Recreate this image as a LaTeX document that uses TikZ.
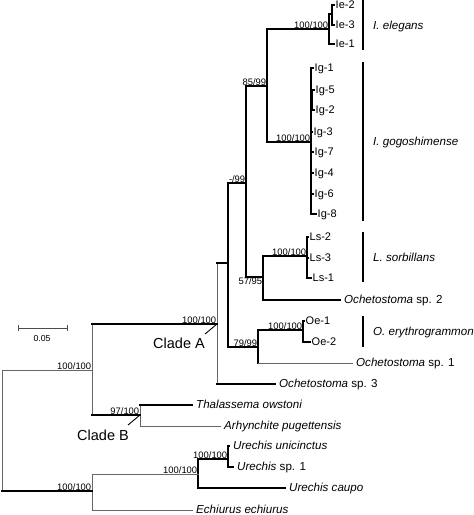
\documentclass[tikz,border=0pt]{standalone}
\usepackage{fontspec}
\setmainfont{Liberation Sans}
\begin{document}
\begin{tikzpicture}[x=1pt,y=-1pt,
  br/.style={line width=1.3pt, line cap=rect},
  gbr/.style={line width=1pt, draw=black!60, line cap=rect},
  bar/.style={line width=2pt},
  bs/.style={font=\fontsize{9.4}{10}\selectfont, inner sep=0.6pt},
  tip/.style={anchor=west, inner xsep=1.5pt, inner ysep=0pt, font=\fontsize{11}{12}\selectfont, text height=7.8pt, text depth=0pt},
  spl/.style={anchor=west, inner xsep=4pt, inner ysep=0pt, font=\fontsize{11.6}{13}\selectfont\itshape, text height=6pt, text depth=0pt},
  grp/.style={anchor=west, inner sep=0pt, font=\fontsize{11.6}{13}\selectfont\itshape, text height=6pt, text depth=0pt},
  clade/.style={font=\fontsize{14.5}{16}\selectfont, inner sep=0pt}]
\useasboundingbox (0,0) rectangle (474,515);
% internal nodes
\coordinate (R) at (2,370);
\coordinate (U) at (92,370);
\coordinate (L) at (92,491);
\coordinate (CA) at (217,324);
\coordinate (CB) at (140,415);
\coordinate (N228) at (228,263);
\coordinate (N246) at (246,183);
\coordinate (N267) at (267,86);
\coordinate (Ie) at (329,29);
\coordinate (Ie23) at (332,14);
\coordinate (Ig) at (311,142);
\coordinate (Ig52) at (312.5,100);
\coordinate (N263) at (263,277);
\coordinate (Ls) at (307,256);
\coordinate (N258) at (258,347);
\coordinate (Oe) at (303,330);
\coordinate (Ur) at (198,474);
\coordinate (UrA) at (228,459);
% leaves
\coordinate (ie2) at (334,5);
\coordinate (ie3) at (334,25);
\coordinate (ie1) at (334,44);
\coordinate (ig1) at (313,68);
\coordinate (ig5) at (314,90);
\coordinate (ig2) at (314,110);
\coordinate (ig3) at (312,132);
\coordinate (ig7) at (313,152);
\coordinate (ig4) at (313,173);
\coordinate (ig6) at (313,194);
\coordinate (ig8) at (316,214);
\coordinate (ls2) at (308,237);
\coordinate (ls3) at (308,258);
\coordinate (ls1) at (311,278);
\coordinate (oe1) at (304,321);
\coordinate (oe2) at (310,342);
\coordinate (och2) at (340,300);
\coordinate (och1) at (352,363);
\coordinate (och3) at (275,384);
\coordinate (thal) at (192,405);
\coordinate (arhy) at (220,426);
\coordinate (uru) at (229,446);
\coordinate (urs) at (233,467);
\coordinate (urc) at (285,488);
\coordinate (echi) at (192,510);
% verticals
\draw[gbr] (R) -- (R|-L);
\draw[gbr] (U|-CA) -- (U|-CB);
\draw[gbr] (CA|-N228) -- (CA|-och3);
\draw[br] (N228|-N246) -- (N228|-N258);
\draw[br] (N246|-N267) -- (N246|-N263);
\draw[br] (N267|-Ie) -- (N267|-Ig);
\draw[br] (Ie|-Ie23) -- (Ie|-ie1);
\draw[br] (Ie23|-ie2) -- (Ie23|-ie3);
\draw[br] (Ig|-ig1) -- (Ig|-ig8);
\draw[br] (Ig52|-ig5) -- (Ig52|-ig2);
\draw[br] (N263|-Ls) -- (N263|-och2);
\draw[br] (Ls|-ls2) -- (Ls|-ls1);
\draw[br] (N258|-Oe) -- (N258|-och1);
\draw[br] (Oe|-oe1) -- (Oe|-oe2);
\draw[gbr] (CB|-thal) -- (CB|-arhy);
\draw[gbr] (L|-Ur) -- (L|-echi);
\draw[br] (Ur|-UrA) -- (Ur|-urc);
\draw[br] (UrA|-uru) -- (UrA|-urs);
% horizontals
\draw[gbr] (R) -- (U);
\draw[br] (R|-L) -- (L);
\draw[br] (U|-CA) -- (CA);
\draw[br] (U|-CB) -- (CB);
\draw[br] (CA|-N228) -- (N228);
\draw[br] (CA|-och3) -- (och3);
\draw[br] (N228|-N246) -- (N246);
\draw[br] (N228|-N258) -- (N258);
\draw[br] (N246|-N267) -- (N267);
\draw[br] (N246|-N263) -- (N263);
\draw[br] (N267|-Ie) -- (Ie);
\draw[br] (N267|-Ig) -- (Ig);
\draw[br] (Ie|-Ie23) -- (Ie23);
\draw[br] (Ie|-ie1) -- (ie1);
\draw[br] (Ie23|-ie2) -- (ie2);
\draw[br] (Ie23|-ie3) -- (ie3);
\draw[br] (Ig|-ig1) -- (ig1);
\draw[br] (Ig|-Ig52) -- (Ig52);
\draw[br] (Ig52|-ig5) -- (ig5);
\draw[br] (Ig52|-ig2) -- (ig2);
\draw[br] (Ig|-ig3) -- (ig3);
\draw[br] (Ig|-ig7) -- (ig7);
\draw[br] (Ig|-ig4) -- (ig4);
\draw[br] (Ig|-ig6) -- (ig6);
\draw[br] (Ig|-ig8) -- (ig8);
\draw[br] (N263|-Ls) -- (Ls);
\draw[br] (N263|-och2) -- (och2);
\draw[br] (Ls|-ls2) -- (ls2);
\draw[br] (Ls|-ls3) -- (ls3);
\draw[br] (Ls|-ls1) -- (ls1);
\draw[br] (N258|-Oe) -- (Oe);
\draw[gbr] (N258|-och1) -- (och1);
\draw[br] (Oe|-oe1) -- (oe1);
\draw[br] (Oe|-oe2) -- (oe2);
\draw[br] (CB|-thal) -- (thal);
\draw[gbr] (CB|-arhy) -- (arhy);
\draw[gbr] (L|-Ur) -- (Ur);
\draw[gbr] (L|-echi) -- (echi);
\draw[br] (Ur|-UrA) -- (UrA);
\draw[br] (Ur|-urc) -- (urc);
\draw[br] (UrA|-uru) -- (uru);
\draw[br] (UrA|-urs) -- (urs);
% support values
\node[bs, anchor=south east] (bU) at (U) {100/100};
\node[bs, anchor=south east] (bCA) at (CA) {100/100};
\node[bs, anchor=south east] (bN246) at (N246) {-/99};
\node[bs, anchor=south east] (bN267) at (N267) {85/99};
\node[bs, anchor=south east] (bIe) at (Ie) {100/100};
\node[bs, anchor=south east] (bIg) at (Ig) {100/100};
\node[bs, anchor=north east] (bN263) at (N263) {57/95};
\node[bs, anchor=south east] (bLs) at (Ls) {100/100};
\node[bs, anchor=south east] (bN258) at (N258) {79/99};
\node[bs, anchor=south east] (bOe) at (Oe) {100/100};
\node[bs, anchor=south east] (bCB) at (CB) {97/100};
\node[bs, anchor=south east] (bL) at (L) {100/100};
\node[bs, anchor=south east] (bUr) at (Ur) {100/100};
\node[bs, anchor=south east] (bUrA) at (UrA) {100/100};
% tip labels
\node[tip] (tie2) at (ie2) {Ie-2};
\node[tip] (tie3) at (ie3) {Ie-3};
\node[tip] (tie1) at (ie1) {Ie-1};
\node[tip] (tig1) at (ig1) {Ig-1};
\node[tip] (tig5) at (ig5) {Ig-5};
\node[tip] (tig2) at (ig2) {Ig-2};
\node[tip] (tig3) at (ig3) {Ig-3};
\node[tip] (tig7) at (ig7) {Ig-7};
\node[tip] (tig4) at (ig4) {Ig-4};
\node[tip] (tig6) at (ig6) {Ig-6};
\node[tip] (tig8) at (ig8) {Ig-8};
\node[tip] (tls2) at (ls2) {Ls-2};
\node[tip] (tls3) at (ls3) {Ls-3};
\node[tip] (tls1) at (ls1) {Ls-1};
\node[tip] (toe1) at (oe1) {Oe-1};
\node[tip] (toe2) at (oe2) {Oe-2};
\node[spl] (toch2) at (och2) {Ochetostoma\upshape{} sp. 2};
\node[spl] (toch1) at (och1) {Ochetostoma\upshape{} sp. 1};
\node[spl] (toch3) at (och3) {Ochetostoma\upshape{} sp. 3};
\node[spl] (tthal) at (thal) {Thalassema owstoni};
\node[spl] (tarhy) at (arhy) {Arhynchite pugettensis};
\node[spl] (turu) at (uru) {Urechis unicinctus};
\node[spl] (turs) at (urs) {Urechis\upshape{} sp. 1};
\node[spl] (turc) at (urc) {Urechis caupo};
\node[spl] (techi) at (echi) {Echiurus echiurus};
% group bars
\coordinate (g1a) at (363,0);   \coordinate (g1b) at (363,50);
\coordinate (g2a) at (363,62);  \coordinate (g2b) at (363,221);
\coordinate (g3a) at (363,232); \coordinate (g3b) at (363,282);
\coordinate (g4a) at (363,316); \coordinate (g4b) at (363,347);
\draw[bar] (g1a) -- (g1b);
\draw[bar] (g2a) -- (g2b);
\draw[bar] (g3a) -- (g3b);
\draw[bar] (g4a) -- (g4b);
\node[grp] (n1) at (373,26) {I. elegans};
\node[grp] (n2) at (373,142) {I. gogoshimense};
\node[grp] (n3) at (373,258) {L. sorbillans};
\node[grp] (n4) at (373,332) {O. erythrogrammon};
% clade labels
\node[clade] (cladeA) at (179,343) {Clade A};
\node[clade] (cladeB) at (103,435) {Clade B};
\coordinate (cAe) at (205,334);
\coordinate (cBe) at (128,425);
\draw[line width=0.9pt] (cAe) -- (CA);
\draw[line width=0.9pt] (cBe) -- (CB);
% scale bar
\coordinate (s1) at (18,328);
\coordinate (s2) at (67,328);
\draw[line width=1pt, black!70] (s1) -- (s2);
\draw[line width=1pt, black!70] ([yshift=3pt]s1) -- ([yshift=-3pt]s1);
\draw[line width=1pt, black!70] ([yshift=3pt]s2) -- ([yshift=-3pt]s2);
\node[font=\fontsize{8.7}{10}\selectfont, inner sep=0pt] (sl) at (42,338) {0.05};
\end{tikzpicture}
\end{document}
